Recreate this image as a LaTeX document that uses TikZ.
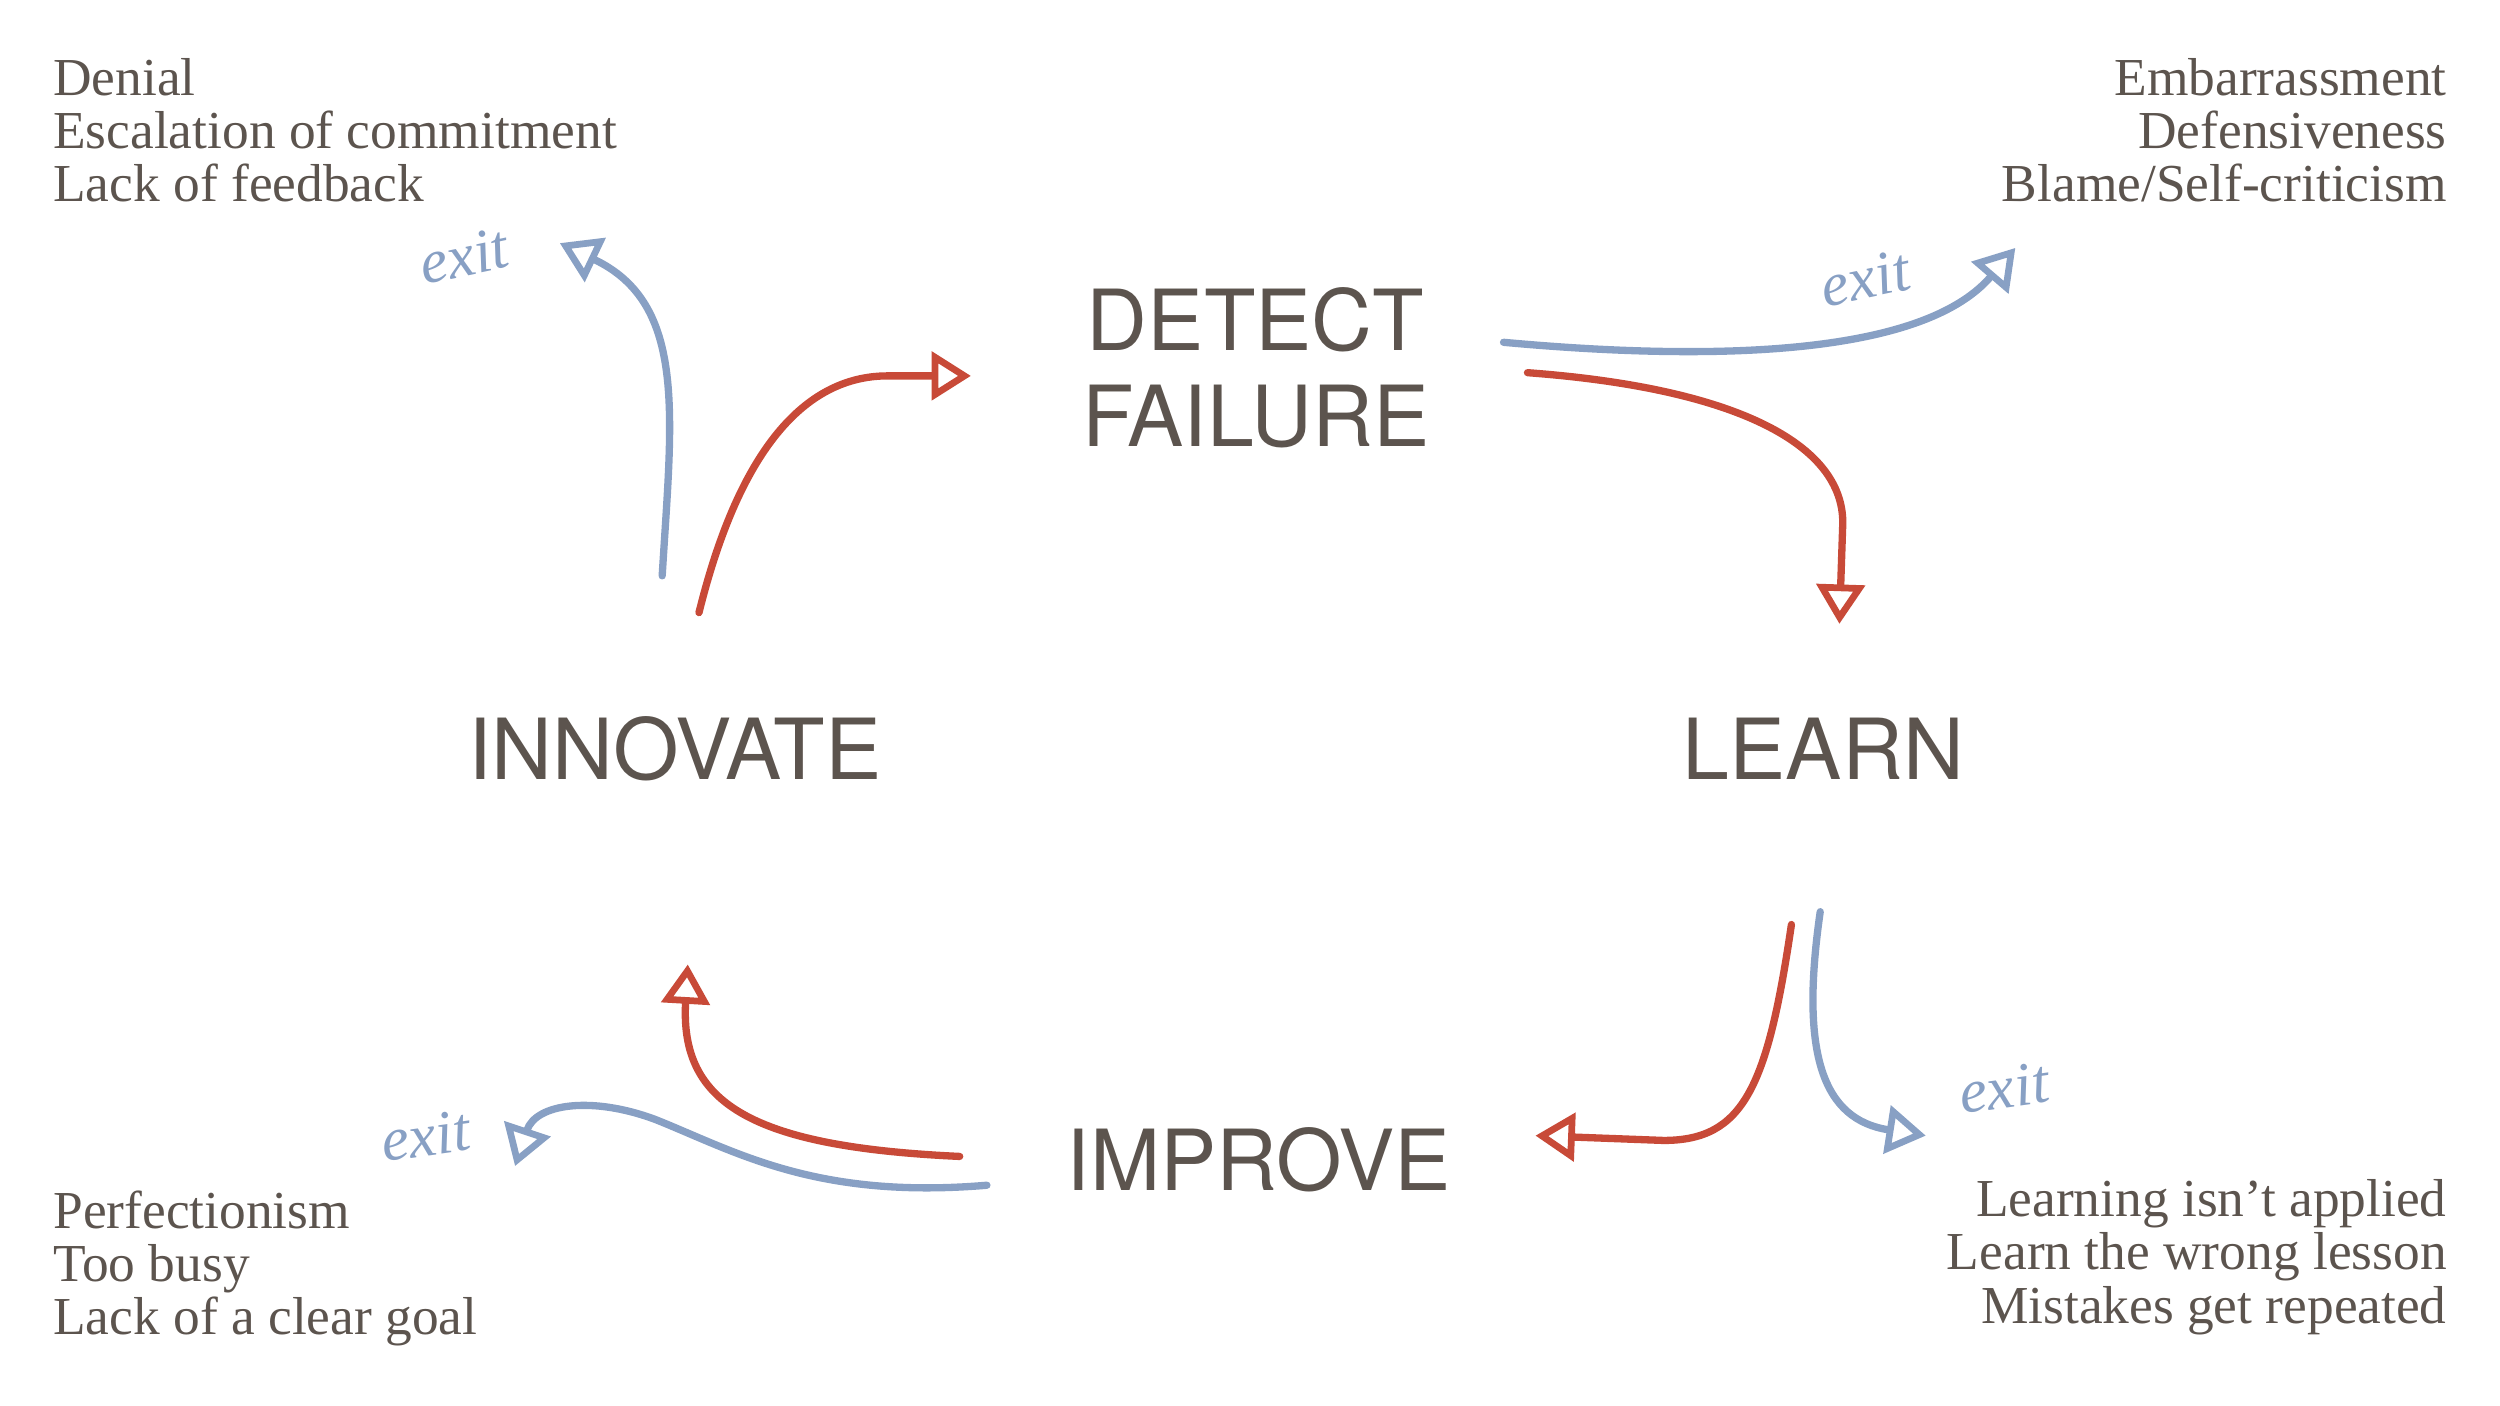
\documentclass[tikz,border=0pt]{standalone}
\usepackage{fontspec}
\setmainfont{Liberation Serif}
\newfontfamily\hsans{TeX Gyre Heros}
\usetikzlibrary{arrows.meta}
\definecolor{cred}{RGB}{200,74,56}
\definecolor{cblue}{RGB}{136,160,196}
\definecolor{ctext}{RGB}{92,84,78}
\tikzset{
  stage/.style={font=\hsans\fontsize{30}{36}\selectfont, text=ctext, align=center},
  note/.style={font=\fontsize{19}{19}\selectfont, text=ctext, inner sep=0pt},
  exitlbl/.style={font=\itshape\fontsize{22}{24}\selectfont, text=cblue, inner sep=1pt},
  redarr/.style={draw=cred, line width=2.6pt, line cap=round, -{Triangle[open, width=17pt, length=14pt, line width=2.4pt]}},
  bluearr/.style={draw=cblue, line width=2.6pt, line cap=round, -{Triangle[open, width=17pt, length=14pt, line width=2.4pt]}}
}
\begin{document}
\begin{tikzpicture}[x=0.02cm, y=-0.02cm]
\useasboundingbox (0,0) rectangle (1563,879);
\node[stage] (detect) at (785,230) {DETECT\\[-2pt]FAILURE};
\node[stage] (learn) at (1140,468) {LEARN};
\node[stage] (improve) at (787,725) {IMPROVE};
\node[stage] (innovate) at (422,468) {INNOVATE};

\node[note, anchor=north west, align=left] (tl) at (33,36) {Denial\\Escalation of commitment\\Lack of feedback};
\node[note, anchor=north east, align=right] (tr) at (1530,36) {Embarrassment\\Defensiveness\\Blame/Self-criticism};
\node[note, anchor=north west, align=left] (bl) at (33,744) {Perfectionism\\Too busy\\Lack of a clear goal};
\node[note, anchor=north east, align=right] (br) at (1530,737) {Learning isn’t applied\\Learn the wrong lesson\\Mistakes get repeated};

\node[exitlbl, rotate=12] (e1) at (290,160) {exit};
\node[exitlbl, rotate=12] (e2) at (1166,174) {exit};
\node[exitlbl, rotate=8] (e3) at (1253,680) {exit};
\node[exitlbl, rotate=8] (e4) at (266,710) {exit};

\coordinate (r1s) at (437,383); \coordinate (r1e) at (607,235);
\coordinate (b1s) at (414,360); \coordinate (b1e) at (350,152);
\coordinate (r2s) at (955,233); \coordinate (r2e) at (1150,390);
\coordinate (b2s) at (940,214); \coordinate (b2e) at (1260,155);
\coordinate (r3s) at (1120,578); \coordinate (r3e) at (960,710);
\coordinate (b3s) at (1138,570); \coordinate (b3e) at (1204,710);
\coordinate (r4s) at (600,723); \coordinate (r4e) at (430,603);
\coordinate (b4s) at (617,741); \coordinate (b4e) at (322,729);

\draw[redarr] (r1s) .. controls (465,270) and (510,235) .. (555,235) -- (r1e);
\draw[bluearr] (b1s) .. controls (420,260) and (430,190) .. (b1e);
\draw[redarr] (r2s) .. controls (1090,243) and (1155,280) .. (1152,330) -- (r2e);
\draw[bluearr] (b2s) .. controls (1060,225) and (1200,225) .. (b2e);
\draw[redarr] (r3s) .. controls (1105,680) and (1090,713) .. (1040,713) -- (r3e);
\draw[bluearr] (b3s) .. controls (1125,660) and (1140,700) .. (b3e);
\draw[redarr] (r4s) .. controls (470,717) and (425,690) .. (r4e);
\draw[bluearr] (b4s) .. controls (510,750) and (460,720) .. (410,700) .. controls (370,685) and (335,690) .. (b4e);
\end{tikzpicture}
\end{document}
